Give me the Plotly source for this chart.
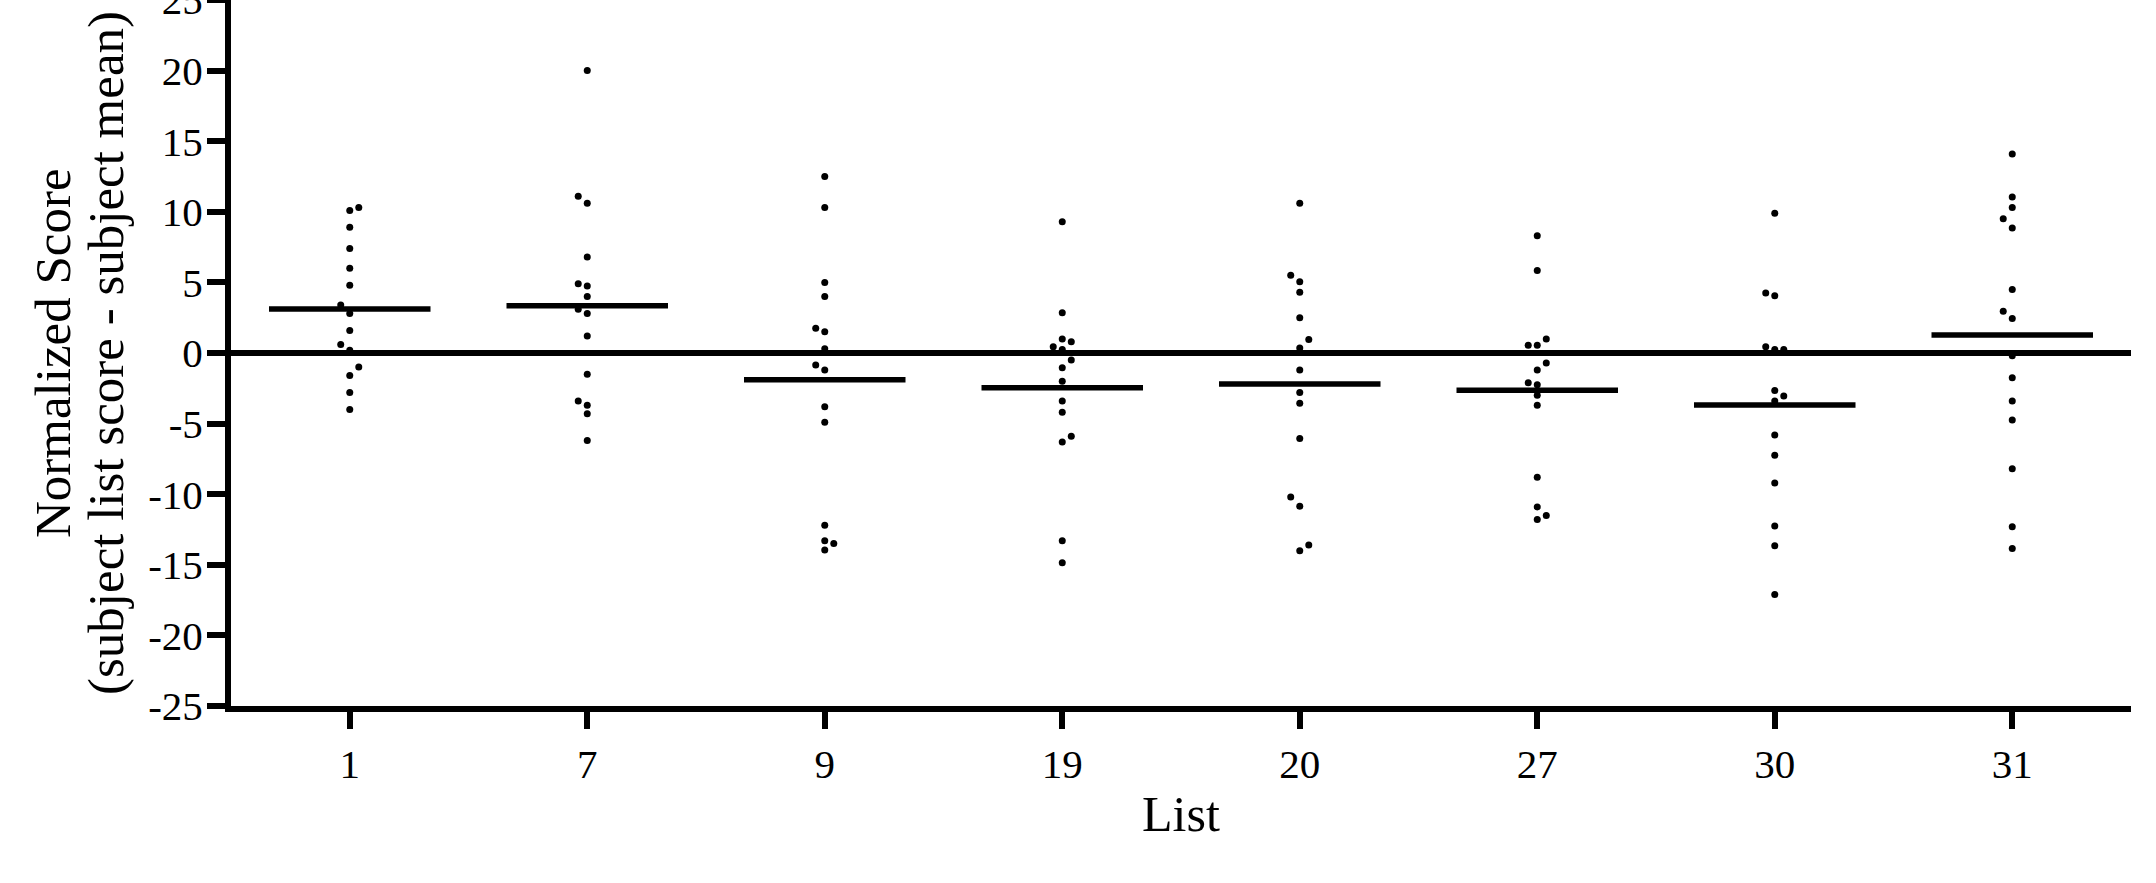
import numpy as np
import plotly.graph_objects as go

# lists shown on the x axis
lists = ["1", "7", "9", "19", "20", "27", "30", "31"]

# y tick values and their labels (plain hyphen as in the original)
yticks = [-25, -20, -15, -10, -5, 0, 5, 10, 15, 20, 25]
ytick_labels = ["-25", "-20", "-15", "-10", "-5", "0", "5", "10", "15", "20", "25"]

# normalized scores per list (subject list score - subject mean)
list1 = [10.3, 10.1, 8.9, 7.4, 6.0, 4.8, 3.4, 2.8, 1.6, 0.6, 0.2, -1.0, -1.6, -2.8, -4.0]
list7 = [20.0, 11.1, 10.6, 6.8, 4.9, 4.75, 4.0, 3.1, 2.8, 1.2, -1.5, -3.4, -3.7, -4.3, -6.2]
list9 = [12.5, 10.3, 5.0, 4.0, 1.75, 1.5, 0.3, -0.85, -1.2, -3.8, -4.9, -12.2, -13.3, -13.5, -13.95]
list19 = [9.3, 2.85, 1.0, 0.8, 0.45, 0.25, -0.5, -1.05, -2.0, -3.4, -4.2, -5.9, -6.3, -13.3, -14.85]
list20 = [10.6, 5.5, 5.05, 4.3, 2.5, 0.95, 0.35, -1.2, -2.8, -3.55, -6.05, -10.2, -10.85, -13.6, -14.0]
list27 = [8.3, 5.85, 1.0, 0.55, 0.55, -0.7, -1.2, -2.1, -2.25, -3.0, -3.7, -8.8, -10.9, -11.5, -11.8]
list30 = [9.9, 4.25, 4.05, 0.45, 0.25, 0.25, -2.65, -3.05, -3.4, -5.8, -7.25, -9.2, -12.25, -13.65, -17.1]
list31 = [14.1, 11.05, 10.3, 9.5, 8.85, 4.5, 2.95, 2.45, -0.2, -1.75, -3.4, -4.75, -8.2, -12.3, -13.85]

# horizontal scatter of overlapping dots (-1 left, 0 centre, +1 right)
jit1 = [1, 0, 0, 0, 0, 0, -1, 0, 0, -1, 0, 1, 0, 0, 0]
jit7 = [0, -1, 0, 0, -1, 0, 0, -1, 0, 0, 0, -1, 0, 0, 0]
jit9 = [0, 0, 0, 0, -1, 0, 0, -1, 0, 0, 0, 0, 0, 1, 0]
jit19 = [0, 0, 0, 1, -1, 0, 1, 0, 0, 0, 0, 1, 0, 0, 0]
jit20 = [0, -1, 0, 0, 0, 1, 0, 0, 0, 0, 0, -1, 0, 1, 0]
jit27 = [0, 0, 1, -1, 0, 1, 0, -1, 0, 0, 0, 0, 0, 1, 0]
jit30 = [0, -1, 0, -1, 0, 1, 0, 1, 0, 0, 0, 0, 0, 0, 0]
jit31 = [0, 0, 0, -1, 0, 0, -1, 0, 0, 0, 0, 0, 0, 0, 0]

scores = [list1, list7, list9, list19, list20, list27, list30, list31]
jitter = [jit1, jit7, jit9, jit19, jit20, jit27, jit30, jit31]

step = 0.038
half = 0.34
font = "Liberation Serif, Times New Roman, serif"

fig = go.Figure()

for i, (vals, jit) in enumerate(zip(scores, jitter)):
    m = np.mean(vals)
    fig.add_trace(go.Scatter(
        x=[i - half, i + half], y=[m, m], mode="lines",
        line=dict(color="black", width=5.5), hoverinfo="skip"))
    fig.add_trace(go.Scatter(
        x=[i + j * step for j in jit], y=vals, mode="markers",
        marker=dict(color="black", size=7)))

fig.update_layout(
    width=2156, height=883,
    margin=dict(l=231, r=25, t=0, b=177, autoexpand=False),
    plot_bgcolor="white", paper_bgcolor="white",
    showlegend=False,
    font=dict(family=font, color="black"),
)

fig.update_xaxes(
    range=[-0.5, 7.5], tickvals=list(range(len(lists))), ticktext=lists,
    showgrid=False, zeroline=False, automargin=False,
    showline=True, linecolor="black", linewidth=6,
    ticks="outside", ticklen=17, tickwidth=6, tickcolor="black",
    tickfont=dict(size=41, family=font),
)
fig.update_yaxes(
    range=[-25, 25], tickvals=yticks, ticktext=ytick_labels,
    showgrid=False, automargin=False,
    ticklabeloverflow="allow", ticklabelstandoff=-4,
    zeroline=True, zerolinecolor="black", zerolinewidth=6,
    showline=True, linecolor="black", linewidth=6,
    ticks="outside", ticklen=18, tickwidth=6, tickcolor="black",
    tickfont=dict(size=41, family=font),
)

# axis titles
fig.add_annotation(text="List", xref="paper", yref="paper", x=0.5, y=0,
                   yanchor="middle", yshift=-108, showarrow=False,
                   font=dict(size=50, family=font))
fig.add_annotation(text="Normalized Score", xref="paper", yref="paper", x=0, y=0.5,
                   textangle=-90, xanchor="center", yanchor="middle", xshift=-178,
                   showarrow=False, font=dict(size=51, family=font))
fig.add_annotation(text="(subject list score - subject mean)", xref="paper", yref="paper",
                   x=0, y=0.5, textangle=-90, xanchor="center", yanchor="middle",
                   xshift=-125, showarrow=False, font=dict(size=51, family=font))

fig.write_html("out.html", config={"displayModeBar": False},
               post_script="document.body.style.margin='0';")
